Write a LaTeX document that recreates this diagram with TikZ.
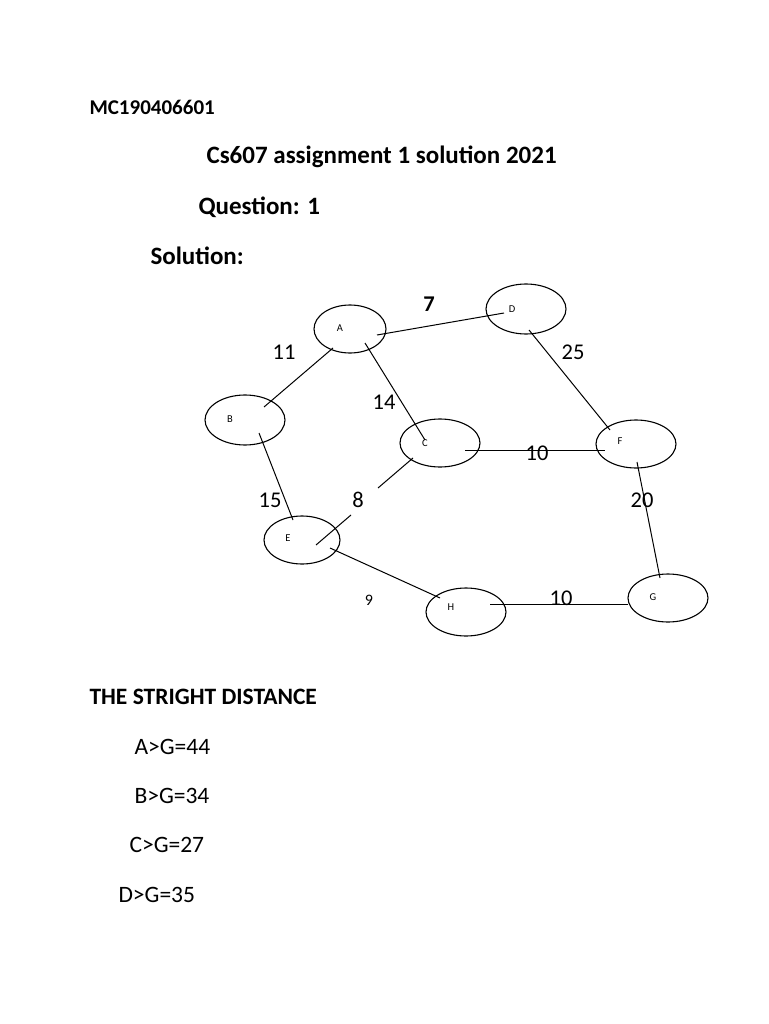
\documentclass[tikz,border=0pt]{standalone}
\usepackage{fontspec}
\setmainfont{Carlito}
\usetikzlibrary{shapes.geometric}
\begin{document}
\begin{tikzpicture}[x=1pt,y=-1pt,
 nd/.style={draw,ellipse,line width=1.1pt,minimum width=#1,inner sep=0pt},
 lbl/.style={font=\fontsize{10.5}{12}\selectfont},
 wt/.style={font=\fontsize{22.5}{25}\selectfont},
 hd/.style={font=\bfseries\fontsize{25}{29}\selectfont,anchor=west},
 ln/.style={line width=1pt},
 tx/.style={font=\fontsize{23.5}{27}\selectfont,anchor=west}]
\useasboundingbox[fill=white] (0,0) rectangle (768,1024);
\node[font=\bfseries\fontsize{21}{24}\selectfont,anchor=west] (id) at (86,107) {MC190406601};
\node[hd] (t1) at (203,157) {Cs607 assignment 1 solution 2021};
\node[hd] (t2) at (195,207) {Question: 1};
\node[hd] (t3) at (147,256) {Solution:};
\node[nd=72pt,minimum height=48pt] (A) at (350,329) {};
\node[nd=80pt,minimum height=50pt] (D) at (526,309) {};
\node[nd=80pt,minimum height=50pt] (B) at (245,420) {};
\node[nd=80pt,minimum height=48pt] (C) at (440,443) {};
\node[nd=80pt,minimum height=48pt] (F) at (636,444) {};
\node[nd=76pt,minimum height=48pt] (E) at (302,540) {};
\node[nd=80pt,minimum height=48pt] (H) at (466,612) {};
\node[nd=80pt,minimum height=48pt] (G) at (668,598) {};
\node[lbl] (lA) at (340,328) {A};
\node[lbl] (lD) at (512,309) {D};
\node[lbl] (lB) at (230,419) {B};
\node[lbl] (lC) at (425,443) {C};
\node[lbl] (lF) at (620,441) {F};
\node[lbl] (lE) at (288,538) {E};
\node[lbl] (lH) at (451,607) {H};
\node[lbl] (lG) at (653,597) {G};
\coordinate (a1) at (377,335); \coordinate (d1) at (504,313);
\coordinate (a2) at (333,348); \coordinate (b1) at (264,407);
\coordinate (a3) at (365,343); \coordinate (c1) at (425,440);
\coordinate (b2) at (259,433); \coordinate (e1) at (293,520);
\coordinate (c2) at (413,458); \coordinate (m1) at (378,488);
\coordinate (e2) at (316,545); \coordinate (m2) at (351,515);
\coordinate (c3) at (465,450); \coordinate (f1) at (605,450);
\coordinate (d2) at (529,330); \coordinate (f2) at (610,430);
\coordinate (f3) at (637,462); \coordinate (g1) at (660,578);
\coordinate (e3) at (330,548); \coordinate (h1) at (440,598);
\coordinate (h2) at (490,604); \coordinate (g2) at (628,604);
\draw[ln] (a1)--(d1); \draw[ln] (a2)--(b1); \draw[ln] (a3)--(c1);
\draw[ln] (b2)--(e1); \draw[ln] (c2)--(m1); \draw[ln] (e2)--(m2);
\draw[ln] (c3)--(f1); \draw[ln] (d2)--(f2); \draw[ln] (f3)--(g1);
\draw[ln] (e3)--(h1); \draw[ln] (h2)--(g2);
\node[font=\bfseries\fontsize{22.5}{25}\selectfont] (w7) at (429,304) {7};
\node[wt] (w11) at (284,352) {11};
\node[wt] (w25) at (573,352) {25};
\node[wt] (w14) at (384,402) {14};
\node[wt] (w10a) at (537,453) {10};
\node[wt] (w15) at (270,500) {15};
\node[wt] (w8) at (358,500) {8};
\node[wt] (w20) at (642,500) {20};
\node[font=\fontsize{16}{18}\selectfont] (w9) at (369,600) {9};
\node[wt] (w10b) at (561,598) {10};
\node[font=\bfseries\fontsize{23.5}{27}\selectfont,anchor=west] (s) at (86,697) {THE STRIGHT DISTANCE};
\node[tx] (r1) at (131,747) {A>G=44};
\node[tx] (r2) at (131,796) {B>G=34};
\node[tx] (r3) at (126,845) {C>G=27};
\node[tx] (r4) at (115,895) {D>G=35};
\end{tikzpicture}
\end{document}
